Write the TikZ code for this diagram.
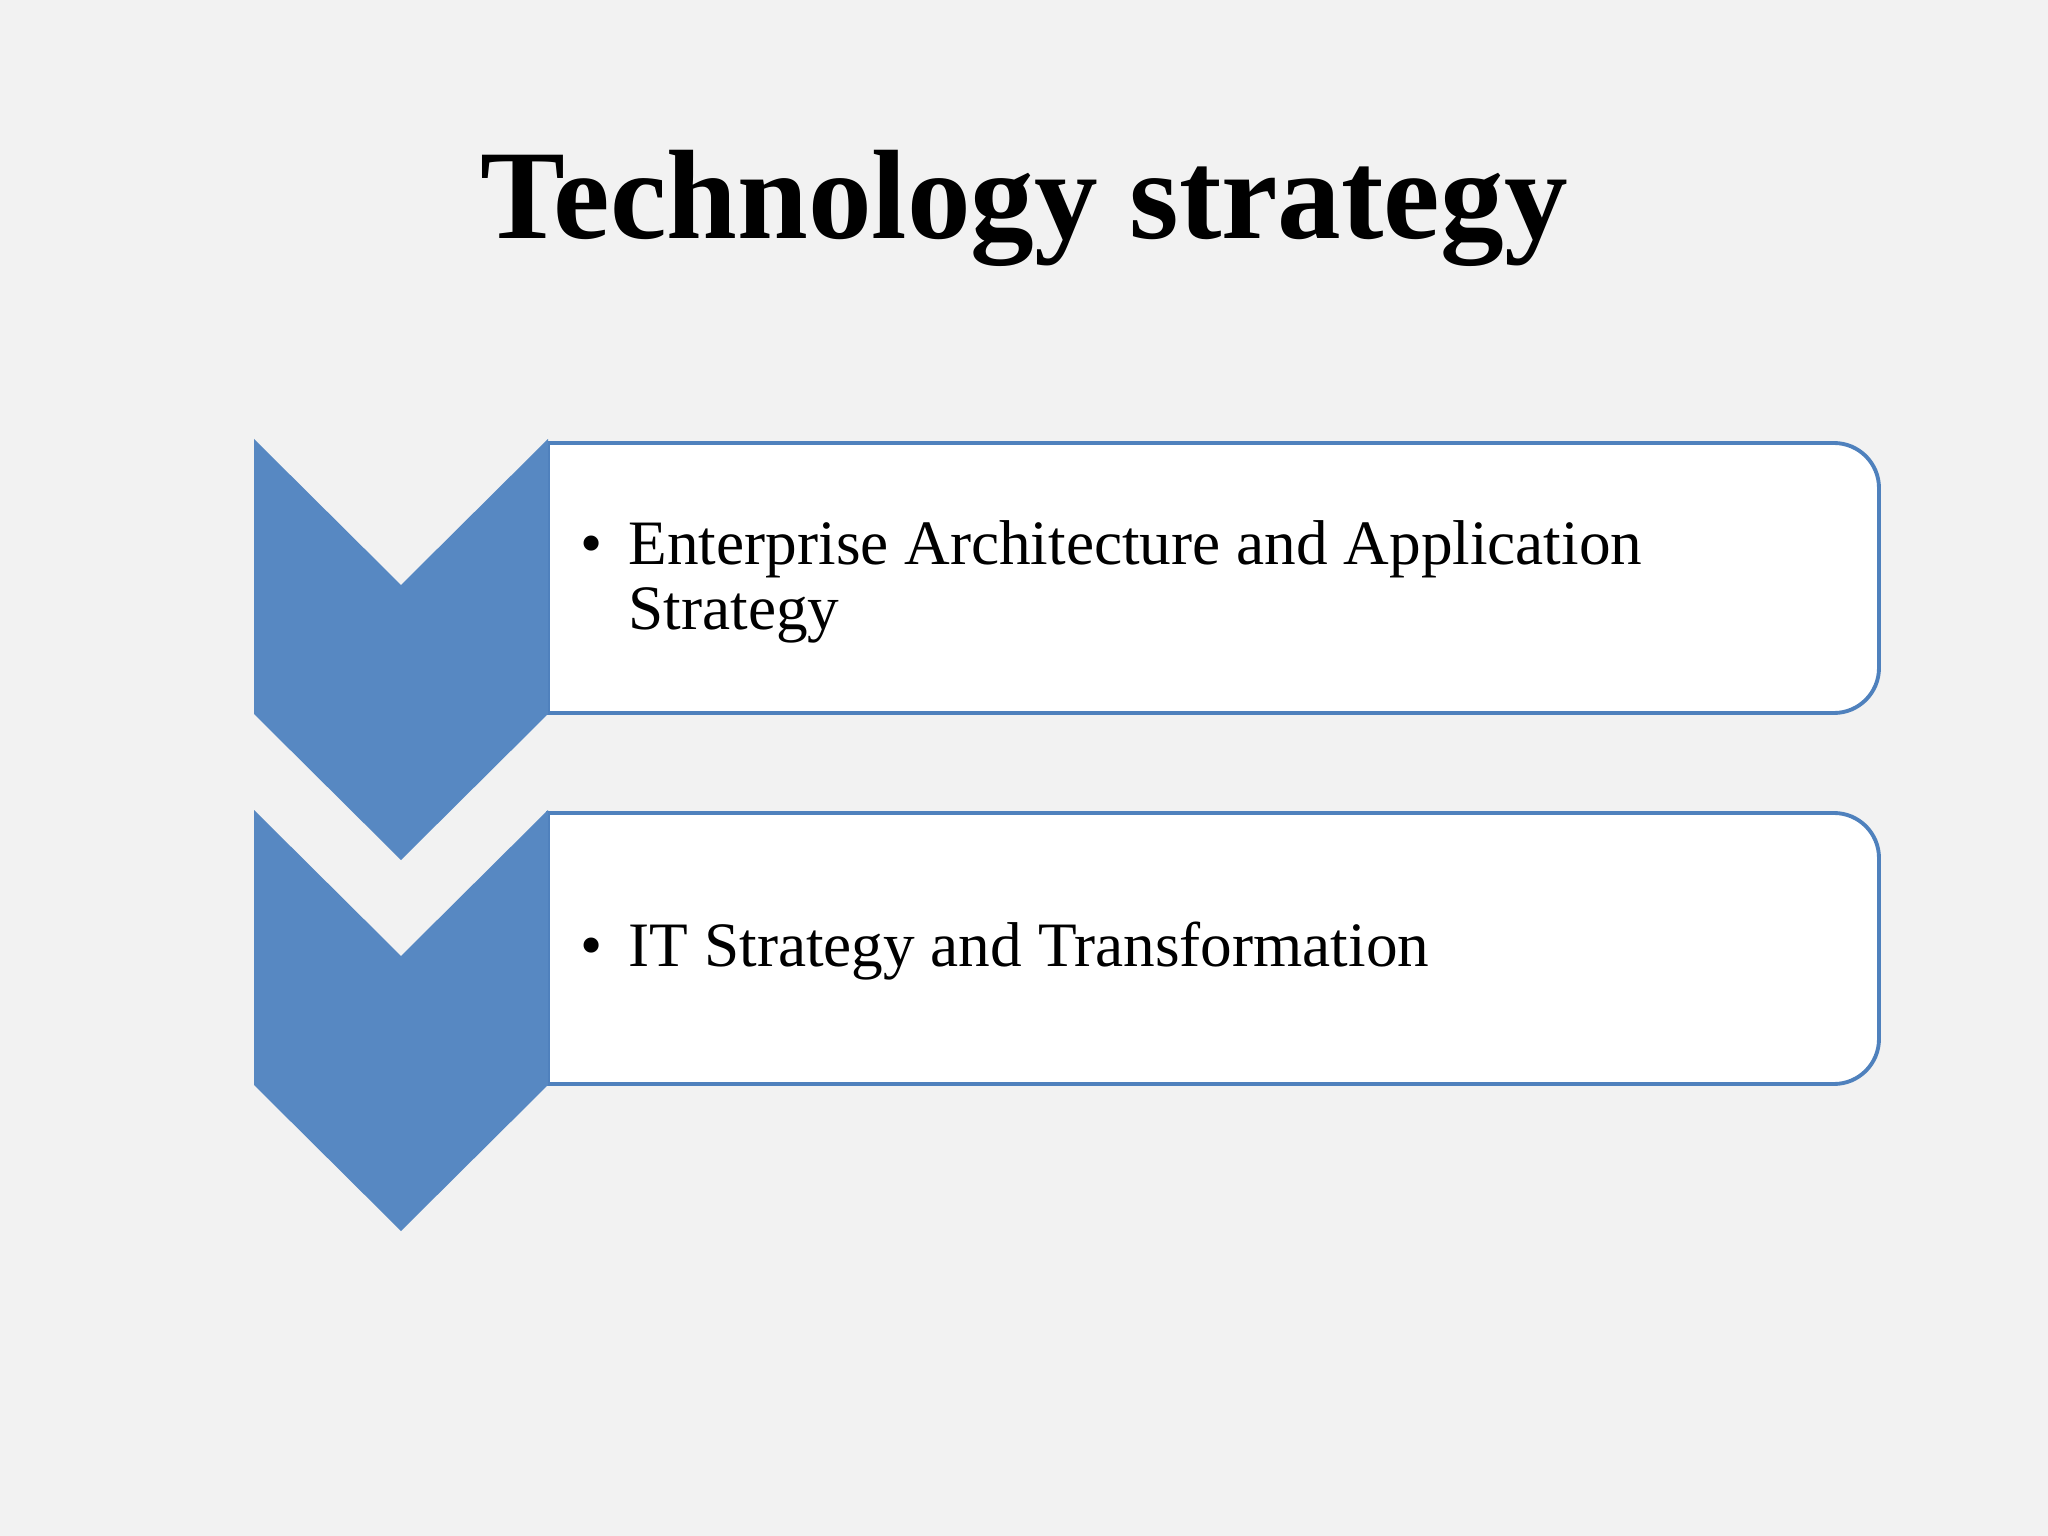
\documentclass[tikz,border=0pt]{standalone}
\usepackage{fontspec}
\setmainfont{Liberation Serif}
\definecolor{chevblue}{RGB}{87,136,194}
\definecolor{edgeblue}{RGB}{79,129,189}
\definecolor{slidebg}{RGB}{242,242,242}

\begin{document}
\begin{tikzpicture}[
    chevron/.style={fill=chevblue},
    panel/.style={draw=edgeblue, fill=white, line width=1.1pt},
    item/.style={inner sep=0pt, font=\fontsize{18}{18.5}\selectfont, align=left}
  ]
  \fill[slidebg] (0,0) rectangle (20.48,-15.36);
  \useasboundingbox (0,0) rectangle (20.48,-15.36);

  \node[inner sep=0pt, font=\fontsize{36.2}{40}\selectfont\bfseries, anchor=base] (title) at (10.24,-2.39) {Technology strategy};

  % panels
  \filldraw[panel] (5.48,-4.43) -- (18.34,-4.43) arc[start angle=90, end angle=0, radius=0.45]
    -- (18.79,-6.68) arc[start angle=0, end angle=-90, radius=0.45] -- (5.48,-7.13) -- cycle;
  \filldraw[panel] (5.48,-8.13) -- (18.34,-8.13) arc[start angle=90, end angle=0, radius=0.45]
    -- (18.79,-10.39) arc[start angle=0, end angle=-90, radius=0.45] -- (5.48,-10.84) -- cycle;

  % chevrons
  \fill[chevron] (2.54,-4.39) -- (4.01,-5.85) -- (5.48,-4.39) -- (5.48,-7.14) -- (4.01,-8.60) -- (2.54,-7.14) -- cycle;
  \fill[chevron] (2.54,-8.10) -- (4.01,-9.56) -- (5.48,-8.10) -- (5.48,-10.85) -- (4.01,-12.31) -- (2.54,-10.85) -- cycle;

  % items (base anchor sits on the last line)
  \node[item, anchor=base] (dot1) at (5.92,-5.65) {\textbullet};
  \node[item, anchor=base west] (item1) at (6.28,-6.30) {Enterprise Architecture and Application\\Strategy};
  \node[item, anchor=base] (dot2) at (5.92,-9.66) {\textbullet};
  \node[item, anchor=base west] (item2) at (6.28,-9.66) {IT Strategy and Transformation};
\end{tikzpicture}
\end{document}
